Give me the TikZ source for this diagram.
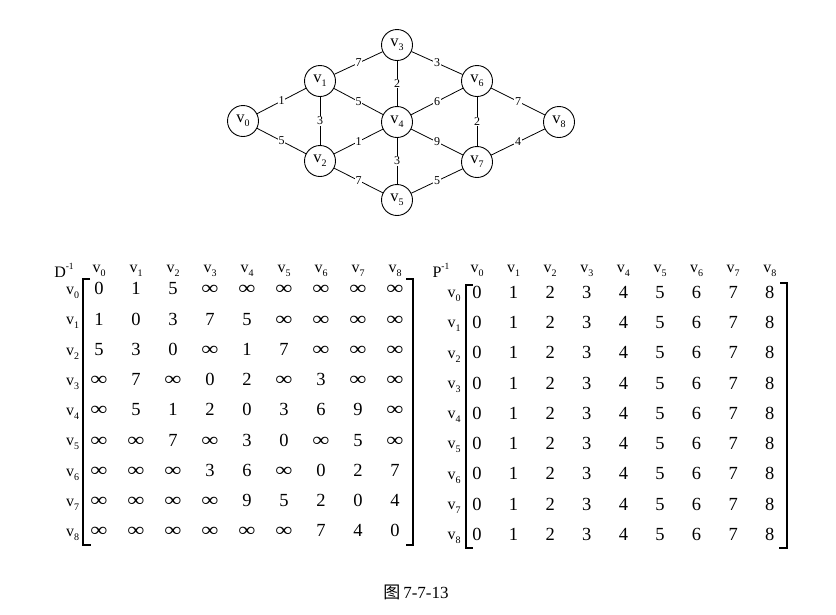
\documentclass[tikz,border=0pt]{standalone}
\usepackage{fontspec}
\setmainfont{Liberation Serif}
\newfontfamily\cjk{Noto Sans CJK SC}
\usepackage{graphicx}
\newcommand\vsub[1]{v\raisebox{-0.25em}{\fontsize{10}{10}\selectfont #1}}
\newcommand\infsym{\scalebox{1.3}[1.05]{∞}}
\tikzset{
  vert/.style={circle,draw,line width=0.9pt,minimum size=31pt,inner sep=0pt,fill=white,font=\fontsize{16.5}{16.5}\selectfont},
  edge/.style={line width=0.8pt},
  wlab/.style={midway,fill=white,inner sep=0.6pt,font=\fontsize{12}{12}\selectfont},
  ent/.style={inner sep=0pt,text height=0.68em,text depth=0pt,anchor=center,font=\fontsize{18.5}{18.5}\selectfont},
  hdr/.style={inner sep=0pt,anchor=center,font=\fontsize{16}{16}\selectfont},
  brk/.style={line width=1.2pt}
}
\begin{document}
\begin{tikzpicture}[x=1pt,y=-1pt]
\useasboundingbox (0,0) rectangle (836,614);
% graph
\node[vert] (v0) at (243,121) {\vsub0};
\node[vert] (v1) at (320,81) {\vsub1};
\node[vert] (v2) at (320,161) {\vsub2};
\node[vert] (v3) at (397,45) {\vsub3};
\node[vert] (v4) at (397,122) {\vsub4};
\node[vert] (v5) at (397,200) {\vsub5};
\node[vert] (v6) at (477,81) {\vsub6};
\node[vert] (v7) at (477,162) {\vsub7};
\node[vert] (v8) at (559,122) {\vsub8};
\draw[edge] (v0) -- node[wlab]{1} (v1);
\draw[edge] (v0) -- node[wlab]{5} (v2);
\draw[edge] (v1) -- node[wlab]{7} (v3);
\draw[edge] (v1) -- node[wlab]{3} (v2);
\draw[edge] (v1) -- node[wlab]{5} (v4);
\draw[edge] (v2) -- node[wlab]{1} (v4);
\draw[edge] (v2) -- node[wlab]{7} (v5);
\draw[edge] (v3) -- node[wlab]{2} (v4);
\draw[edge] (v3) -- node[wlab]{3} (v6);
\draw[edge] (v4) -- node[wlab]{6} (v6);
\draw[edge] (v4) -- node[wlab]{9} (v7);
\draw[edge] (v4) -- node[wlab]{3} (v5);
\draw[edge] (v6) -- node[wlab]{2} (v7);
\draw[edge] (v6) -- node[wlab]{7} (v8);
\draw[edge] (v7) -- node[wlab]{4} (v8);
\draw[edge] (v5) -- node[wlab]{5} (v7);
% D matrix
\node[hdr] (dname) at (64,270) {D\raisebox{0.5em}{\fontsize{9.5}{9.5}\selectfont -1}};
\foreach \j in {0,...,8} {
  \node[hdr] (dh\j) at ({99+37*\j},270.5) {\vsub{\j}};
  \node[hdr] (dr\j) at (72.5,{293+30.25*\j}) {\vsub{\j}};
}
\foreach \row [count=\i from 0] in {
 {0,1,5,\infsym,\infsym,\infsym,\infsym,\infsym,\infsym},
 {1,0,3,7,5,\infsym,\infsym,\infsym,\infsym},
 {5,3,0,\infsym,1,7,\infsym,\infsym,\infsym},
 {\infsym,7,\infsym,0,2,\infsym,3,\infsym,\infsym},
 {\infsym,5,1,2,0,3,6,9,\infsym},
 {\infsym,\infsym,7,\infsym,3,0,\infsym,5,\infsym},
 {\infsym,\infsym,\infsym,3,6,\infsym,0,2,7},
 {\infsym,\infsym,\infsym,\infsym,9,5,2,0,4},
 {\infsym,\infsym,\infsym,\infsym,\infsym,\infsym,7,4,0}} {
  \foreach \e [count=\j from 0] in \row {
    \node[ent] (d-\i-\j) at ({99+37*\j},{291.5+30.25*\i}) {\e};
  }
}
\draw[brk] (90,279) -- (83,279) -- (83,545) -- (91,545);
\draw[brk] (406,279) -- (413,279) -- (413,545) -- (406,545);
% P matrix
\node[hdr] (pname) at (441,270) {P\raisebox{0.5em}{\fontsize{9.5}{9.5}\selectfont -1}};
\foreach \j in {0,...,8} {
  \node[hdr] (ph\j) at ({477+36.6*\j},270.5) {\vsub{\j}};
  \node[hdr] (pr\j) at (454,{296+30.25*\j}) {\vsub{\j}};
  \foreach \i in {0,...,8} {
    \node[ent] (p-\i-\j) at ({477+36.6*\j},{295+30.25*\i}) {\j};
  }
}
\draw[brk] (473,285) -- (466,285) -- (466,548) -- (473,548);
\draw[brk] (780,283) -- (787,283) -- (787,548) -- (779,548);
% caption
\node[font=\fontsize{17}{17}\selectfont] (cap) at (416,592) {{\cjk 图}\,7-7-13};
\end{tikzpicture}
\end{document}
